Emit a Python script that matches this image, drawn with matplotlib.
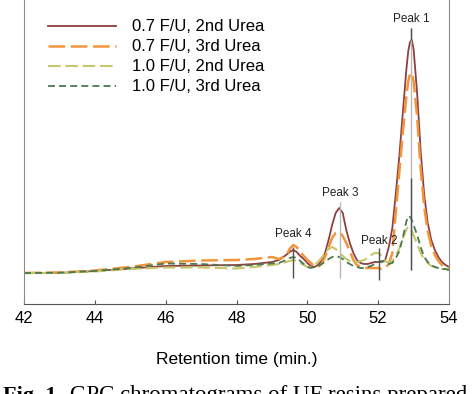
import matplotlib
matplotlib.use("Agg")
from matplotlib import pyplot as plt

plt.rcParams['font.family'] = ['Liberation Sans', 'DejaVu Sans']
plt.rcParams['lines.scale_dashes'] = False

# retention time (min.) and detector signal (arbitrary units, baseline = 0)
t = [42, 43, 44, 45, 46, 47, 48, 48.5,
     49.0, 49.2, 49.4, 49.5, 49.6, 49.7, 49.8, 49.9,
     50.0, 50.1, 50.2, 50.3, 50.4, 50.5, 50.6, 50.7, 50.8, 50.9,
     51.0, 51.1, 51.2, 51.3, 51.4, 51.5, 51.6, 51.7, 51.8, 51.9,
     52.0, 52.1, 52.2, 52.3, 52.4, 52.5, 52.6, 52.7, 52.8,
     52.85, 52.9, 52.95,
     53.0, 53.1, 53.2, 53.3, 53.4, 53.5, 53.6, 53.7, 53.8, 53.9,
     54.0]

fu07_2nd = [0, 0, 2, 4.5, 7, 7.5, 8, 9,
            11, 13, 18, 21, 23, 21, 17, 14,
            10, 7, 6, 8, 12, 20, 33, 48, 60, 65,
            60, 43, 30, 20, 13, 10, 9, 9, 10, 11,
            11, 11, 13, 26, 45, 80, 118, 162, 205,
            222, 231, 233,
            224, 180, 122, 78, 50, 33, 23, 16, 11, 8,
            6]

fu07_3rd = [0, 0.5, 2.5, 6, 11, 12.5, 13, 14,
            16, 14, 17, 24, 28, 26, 21, 17,
            13, 10, 7, 6, 9, 16, 26, 35, 40, 41,
            37, 30, 22, 13, 8, 6, 5, 5, 5, 5,
            5, 4, 5, 9, 20, 62, 102, 142, 178,
            192, 199, 200,
            192, 156, 104, 66, 42, 27, 18, 12, 8, 6,
            5]

fu10_2nd = [0, 0, 1.5, 4, 5.5, 5.5, 4.5, 6,
            8, 9, 11, 12, 13, 12, 10, 8,
            6, 6, 8, 11, 15, 20, 24, 26, 24, 20,
            17, 14, 12, 11, 11, 12, 13, 15, 18, 20,
            20, 17, 12, 10, 12, 17, 25, 35, 44,
            46, 45, 42,
            38, 29, 20, 14, 10, 7, 6, 5, 4, 4,
            3]

fu10_3rd = [0, 0.3, 2, 5, 9.5, 9, 7, 8,
            9.5, 10, 13, 15, 16, 15, 12, 9,
            6, 5, 6, 7, 9, 11, 14, 16, 17, 16,
            14, 11, 9, 7, 6, 5, 5, 6, 7, 9,
            11, 12, 11, 9, 10, 15, 22, 36, 52,
            57, 56, 53,
            48, 38, 26, 16, 11, 8, 6, 5, 4, 4,
            3]

series = [
    ("0.7 F/U, 2nd Urea", fu07_2nd, "#8e3f3f", 1.3, None),
    ("0.7 F/U, 3rd Urea", fu07_3rd, "#f2953a", 1.8, (12, 4)),
    ("1.0 F/U, 2nd Urea", fu10_2nd, "#c9c56a", 1.5, (9, 3.5)),
    ("1.0 F/U, 3rd Urea", fu10_3rd, "#4b7a4e", 1.3, (5, 3)),
]

# peak markers: label, position, line top, line bottom, label height
peak_names = ["Peak 1", "Peak 2", "Peak 3", "Peak 4"]
peak_t = [52.93, 52.03, 50.93, 49.6]
peak_top = [245, 25, 71, 26]
peak_bot = [3, -7, -5, -5]
peak_lab_y = [254, 32, 80, 39]

fig = plt.figure(figsize=(4.74, 3.94), dpi=100)
ax = fig.add_axes([24 / 474, 90 / 394, 425 / 474, 304 / 394])

for name, y, c, lw, d in series:
    ln, = ax.plot(t, y, color=c, lw=lw, label=name)
    if d is not None:
        ln.set_dashes(d)

# peak lines
for i in range(4):
    light = peak_names[i] in ("Peak 1", "Peak 3")
    ax.vlines(peak_t[i], peak_bot[i], peak_top[i],
              color="#b8b8b8" if light else "#505050", lw=1, zorder=3)
    ax.text(peak_t[i], peak_lab_y[i], peak_names[i], fontsize=8.5,
            ha="center", va="center", color="#222222")
# dark parts of the peak 1 marker
ax.vlines(peak_t[0], 233, peak_top[0], color="#505050", lw=1, zorder=3)
ax.vlines(peak_t[0], peak_bot[0], 95, color="#505050", lw=1, zorder=3)

ax.set_xlim(42, 54)
ax.set_ylim(-31, 273)
ax.set_xticks(range(42, 55, 2))
ax.set_yticks([])
ax.tick_params(axis="x", direction="in", length=3, labelsize=12, pad=5,
               color="#555555")
ax.set_xlabel("Retention time (min.)", fontsize=12.5, labelpad=19)

ax.spines["top"].set_visible(False)
for s in ("left", "right"):
    ax.spines[s].set_color("#8a8a8a")
ax.spines["bottom"].set_color("#555555")

ax.legend(loc="upper left", bbox_to_anchor=(0.0565, 0.936), frameon=False,
          fontsize=12, handlelength=4.1, handletextpad=0.95,
          labelspacing=0.3, borderpad=0, borderaxespad=0)

fig.text(3 / 474, -0.018, "Fig. 1.", family="Liberation Serif",
         fontweight="bold", fontsize=16, va="baseline")
fig.text(70 / 474, -0.018, "GPC chromatograms of UF resins prepared",
         family="Liberation Serif", fontsize=16.5, va="baseline")

fig.savefig("out.png", dpi=100)
